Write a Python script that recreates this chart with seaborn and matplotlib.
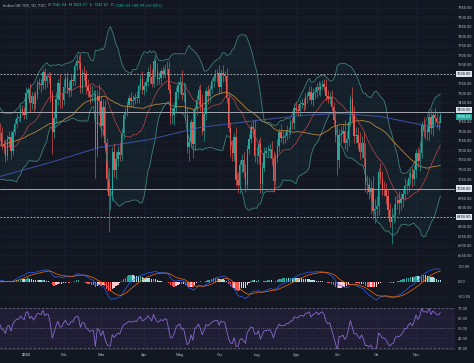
import numpy as np
import pandas as pd
import matplotlib
matplotlib.use("Agg")
import matplotlib.pyplot as plt
import seaborn as sns

# --- data: FTSE 100 daily closes (points) -----------------------------------
# Oct 1 - Dec 9 2021, only used to warm up the indicators (not drawn)
warmup_close = [7027, 7011, 7077, 6995, 7078, 7095, 7147, 7130, 7141, 7208, 7234, 7203, 7217, 7223, 7190,
                7205, 7222, 7277, 7253, 7249, 7238,
                7288, 7274, 7248, 7280, 7304, 7300, 7274, 7340, 7384, 7348, 7352, 7327, 7291, 7255, 7224,
                7255, 7266, 7286, 7311, 7044, 7110, 7059,
                7168, 7129, 7122, 7232, 7339, 7337, 7321]

month_labels = ["", "2022", "Feb", "Mar", "Apr", "Mag", "Giu", "Lug", "Ago", "Set", "Ott", "Nov"]

close_dec = [7292, 7231, 7219, 7171, 7260, 7270, 7198, 7297, 7341, 7373, 7372, 7421, 7403, 7385]
close_jan = [7505, 7516, 7450, 7485, 7445, 7491, 7552, 7551, 7543, 7611, 7564, 7590, 7585, 7494, 7297, 7372,
             7470, 7555, 7466, 7464]
close_feb = [7535, 7583, 7529, 7516, 7573, 7567, 7643, 7672, 7661, 7531, 7609, 7603, 7537, 7513, 7484, 7494,
             7498, 7207, 7489, 7458]
close_mar = [7330, 7429, 7238, 7049, 6959, 6964, 7191, 7099, 7156, 7193, 7176, 7291, 7385, 7405, 7442, 7476,
             7460, 7467, 7483, 7474, 7537, 7578, 7516]
close_apr = [7538, 7559, 7613, 7587, 7552, 7670, 7618, 7577, 7581, 7616, 7601, 7630, 7628, 7521, 7380, 7386,
             7425, 7510, 7545]
close_may = [7561, 7493, 7503, 7388, 7216, 7243, 7348, 7233, 7418, 7465, 7519, 7438, 7302, 7390, 7514, 7485,
             7522, 7564, 7585, 7600, 7608]
close_jun = [7533, 7608, 7598, 7593, 7476, 7318, 7206, 7187, 7273, 7045, 7016, 7122, 7152, 7089, 7020, 7209,
             7258, 7323, 7312, 7169]
close_jul = [7169, 7232, 7025, 7108, 7189, 7196, 7197, 7210, 7156, 7040, 7159, 7223, 7297, 7264, 7271, 7276,
             7306, 7306, 7348, 7345, 7423]
close_aug = [7413, 7409, 7445, 7448, 7440, 7482, 7488, 7507, 7466, 7501, 7509, 7536, 7516, 7542, 7551, 7534,
             7488, 7471, 7480, 7427, 7362, 7284]
close_sep = [7149, 7282, 7287, 7300, 7238, 7262, 7351, 7473, 7385, 7277, 7282, 7237, 7193, 7238, 7159, 7019,
             7021, 6984, 7005, 6881, 6894]
close_oct = [6909, 7086, 7053, 6997, 6991, 6959, 6885, 6826, 6850, 6858, 6921, 6937, 6925, 6944, 6970, 7013,
             7013, 7056, 7074, 7048, 7095]
close_nov = [7186, 7144, 7188, 7335, 7300, 7306, 7297, 7376, 7318, 7385, 7369, 7351, 7346.54, 7385.53]

# wick lengths beyond the candle body (points)
wick_up = [
    [25, 30, 25, 40, 20, 30, 35, 15, 25, 25, 10, 20, 20, 25],
    [30, 20, 40, 25, 25, 20, 20, 30, 25, 20, 25, 20, 25, 30, 25, 30, 40, 20, 45, 35],
    [40, 25, 30, 35, 25, 30, 20, 30, 30, 45, 20, 35, 20, 40, 30, 50, 20, 20, 30, 60],
    [30, 40, 35, 30, 60, 40, 30, 50, 40, 30, 50, 30, 20, 20, 20, 15, 30, 25, 20, 30, 15, 20, 40],
    [20, 25, 25, 40, 40, 15, 30, 40, 30, 20, 30, 25, 40, 45, 30, 40, 30, 25, 20],
    [30, 60, 60, 50, 40, 30, 20, 70, 20, 25, 20, 30, 60, 40, 20, 30, 25, 20, 20, 30, 20],
    [40, 20, 40, 20, 40, 30, 30, 50, 20, 50, 40, 30, 30, 40, 40, 20, 30, 20, 40, 50],
    [50, 30, 40, 30, 30, 20, 30, 30, 40, 40, 30, 40, 20, 40, 30, 20, 30, 20, 20, 30, 20],
    [30, 30, 20, 30, 30, 20, 20, 30, 30, 30, 25, 20, 30, 20, 20, 25, 40, 30, 30, 40, 30, 50],
    [50, 30, 40, 40, 60, 40, 30, 20, 60, 50, 40, 40, 60, 40, 60, 80, 50, 40, 40, 60, 50],
    [50, 20, 50, 40, 40, 40, 40, 40, 50, 60, 40, 30, 50, 30, 30, 40, 30, 30, 30, 40, 30],
    [20, 30, 20, 20, 40, 30, 30, 20, 40, 20, 40, 30, 30, 18],
]
wick_dn = [
    [40, 25, 30, 30, 20, 40, 45, 20, 15, 20, 15, 20, 15, 20],
    [20, 30, 50, 30, 40, 25, 20, 25, 35, 20, 40, 30, 30, 40, 115, 30, 25, 30, 40, 40],
    [25, 20, 30, 35, 30, 25, 20, 20, 30, 30, 30, 30, 40, 30, 40, 30, 35, 150, 40, 70],
    [60, 50, 30, 60, 190, 70, 30, 40, 50, 40, 30, 30, 30, 20, 25, 20, 30, 30, 20, 25, 25, 20, 20],
    [25, 30, 20, 30, 20, 20, 30, 30, 25, 30, 20, 20, 25, 20, 40, 40, 50, 25, 40],
    [40, 25, 40, 30, 30, 70, 30, 70, 30, 30, 25, 30, 20, 50, 30, 40, 30, 20, 30, 20, 40],
    [30, 30, 40, 25, 25, 20, 40, 40, 40, 30, 40, 40, 40, 30, 40, 30, 30, 20, 40, 30],
    [40, 40, 50, 50, 20, 20, 30, 30, 30, 60, 20, 20, 30, 20, 30, 30, 20, 40, 20, 30, 30],
    [20, 30, 30, 20, 30, 20, 30, 20, 20, 30, 30, 30, 25, 30, 20, 20, 30, 20, 25, 20, 30, 40],
    [80, 40, 40, 40, 30, 40, 40, 20, 30, 40, 40, 30, 40, 30, 40, 40, 50, 40, 120, 40, 60],
    [40, 50, 30, 30, 30, 40, 40, 30, 120, 30, 30, 30, 60, 40, 40, 30, 40, 30, 30, 40, 30],
    [40, 30, 50, 30, 30, 40, 40, 40, 30, 40, 30, 30, 40, 3],
]

# 200-day SMA at a few bars
sma200_bar = [0, 27, 53, 80, 107, 133, 160, 181, 203, 224, 235]
sma200_val = [7063, 7137, 7216, 7258, 7322, 7353, 7384, 7395, 7379, 7337, 7326]

levels_dashed = [7600, 6850]
levels_solid = [7400, 7000]

header = [("Indice UK 100, 1D, TVC", "#b2b5be"), ("  O ", "#b2b5be"), ("7346.54", "#26a69a"),
          ("  H ", "#b2b5be"), ("7403.37", "#26a69a"), ("  L ", "#b2b5be"), ("7343.82", "#26a69a"),
          ("  C ", "#b2b5be"), ("7385.53 +38.99 (+0.53%)", "#26a69a")]

# --- build series -------------------------------------------------------------
month_closes = [close_dec, close_jan, close_feb, close_mar, close_apr, close_may,
                close_jun, close_jul, close_aug, close_sep, close_oct, close_nov]
vis_close = np.concatenate([np.array(m, float) for m in month_closes])
full = pd.Series(np.concatenate([np.array(warmup_close, float), vis_close]))
n_warm = len(warmup_close)

opn = full.shift(1).fillna(full.iloc[0])
sma20 = full.rolling(20).mean()
sd20 = full.rolling(20).std(ddof=0)
bb_up, bb_lo = sma20 + 2 * sd20, sma20 - 2 * sd20
sma50 = full.rolling(50).mean()
macd = full.ewm(span=12, adjust=False).mean() - full.ewm(span=26, adjust=False).mean()
signal = macd.ewm(span=9, adjust=False).mean()
hist = macd - signal
delta = full.diff()
gain = delta.clip(lower=0).ewm(alpha=1 / 14, adjust=False).mean()
loss = (-delta.clip(upper=0)).ewm(alpha=1 / 14, adjust=False).mean()
rsi = 100 - 100 / (1 + gain / loss)

df = pd.DataFrame({
    "x": np.arange(len(vis_close)),
    "open": opn.values[n_warm:], "close": vis_close,
    "bb_up": bb_up.values[n_warm:], "bb_lo": bb_lo.values[n_warm:],
    "sma20": sma20.values[n_warm:], "sma50": sma50.values[n_warm:],
    "macd": macd.values[n_warm:], "signal": signal.values[n_warm:], "hist": hist.values[n_warm:],
    "rsi": rsi.values[n_warm:],
})
df["high"] = df[["open", "close"]].max(axis=1) + np.concatenate(wick_up)
df["low"] = df[["open", "close"]].min(axis=1) - np.concatenate(wick_dn)
sma200 = pd.DataFrame({"x": sma200_bar, "v": sma200_val})

month_start = np.cumsum([0] + [len(m) for m in month_closes[:-1]])

# --- style --------------------------------------------------------------------
BG = "#131722"
GRID = "#1c2030"
TXT = "#b2b5be"
UP = "#26a69a"
DN = "#ef5350"

sns.set_theme(style="dark", rc={
    "figure.facecolor": BG, "axes.facecolor": BG, "axes.edgecolor": "#2a2e39",
    "axes.grid": True, "grid.color": GRID, "grid.linewidth": 0.5,
    "xtick.color": TXT, "ytick.color": TXT})
plt.rcParams["font.family"] = ["Roboto", "DejaVu Sans"]

fig = plt.figure(figsize=(4.74, 3.63), dpi=100)
W, H = 474, 363
aw = 455 / W
ax_p = fig.add_axes([0, 1 - 259 / H, aw, 259 / H])
ax_m = fig.add_axes([0, 1 - 301 / H, aw, 42 / H])
ax_r = fig.add_axes([0, 1 - 349 / H, aw, 48 / H])

x0 = 0.13
x1 = (455 - 26) / 1.875 + 14
for ax in (ax_p, ax_m, ax_r):
    ax.set_xlim(x0, x1)
    ax.set_xticks(month_start[1:])
    ax.yaxis.tick_right()
    ax.tick_params(axis="both", length=0, labelsize=2.9, labelcolor=TXT, pad=2)
    for s in ax.spines.values():
        s.set_visible(False)
    ax.spines["bottom"].set_visible(True)
    ax.spines["bottom"].set_linewidth(0.6)

# --- price pane -----------------------------------------------------------------
ax_p.fill_between(df["x"], df["bb_lo"], df["bb_up"], color="#26a69a", alpha=0.07, lw=0)
sns.lineplot(data=df, x="x", y="bb_up", ax=ax_p, color="#3f7f7a", lw=0.6, legend=False)
sns.lineplot(data=df, x="x", y="bb_lo", ax=ax_p, color="#3f7f7a", lw=0.6, legend=False)
sns.lineplot(data=sma200, x="x", y="v", ax=ax_p, color="#3b52a8", lw=0.7, legend=False)
sns.lineplot(data=df, x="x", y="sma50", ax=ax_p, color="#b8873c", lw=0.6, legend=False)
sns.lineplot(data=df, x="x", y="sma20", ax=ax_p, color="#c2444a", lw=0.5, legend=False)

for lv in levels_solid:
    ax_p.axhline(lv, color="#a3a6af", lw=0.7)
for lv in levels_dashed:
    ax_p.axhline(lv, color="#c3c6ce", lw=0.6, ls=(0, (2, 2)))

cols = np.where(df["close"] >= df["open"], UP, DN)
ax_p.vlines(df["x"], df["low"], df["high"], colors=cols, lw=0.45)
body = np.maximum((df["close"] - df["open"]).abs(), 3)
ax_p.bar(df["x"], body, bottom=df[["open", "close"]].min(axis=1), width=0.7, color=cols, lw=0)

ax_p.set_ylim(6629, 7992)
pt = np.arange(6650, 8000, 50)
ax_p.set_yticks(pt)
ax_p.set_yticklabels([f"{v:.2f}" if v not in levels_dashed + levels_solid else "" for v in pt])
ax_p.tick_params(axis="x", labelbottom=False)

for lv in levels_dashed + levels_solid:
    ax_p.text(1.004, lv + (12 if lv == 7400 else 0), f"{lv:.2f}", transform=ax_p.get_yaxis_transform(),
              fontsize=2.9, color="#131722", va="center", ha="left", clip_on=False,
              bbox=dict(boxstyle="square,pad=0.25", fc="#e0e3eb", ec="none"))
last = df["close"].iloc[-1]
ax_p.text(1.004, last - 10, f"{last:.2f}", transform=ax_p.get_yaxis_transform(),
          fontsize=2.9, color="white", va="center", ha="left", clip_on=False,
          bbox=dict(boxstyle="square,pad=0.25", fc=UP, ec="none"))

# header
t = ax_p.text(3 / 455, 1 - 5 / 259, header[0][0], transform=ax_p.transAxes, fontsize=3.1,
              color=header[0][1], va="center", ha="left")
for txt, c in header[1:]:
    t = ax_p.annotate(txt, xy=(1, 0), xycoords=t, fontsize=3.1, color=c, va="bottom", ha="left")

# --- MACD pane -----------------------------------------------------------------
h = df["hist"].values
dh = np.diff(h, prepend=h[0])
hcol = np.where(h >= 0, np.where(dh >= 0, "#26a69a", "#b2dfdb"), np.where(dh <= 0, "#ff5252", "#ffcdd2"))
ax_m.bar(df["x"], h, width=0.7, color=hcol, lw=0)
sns.lineplot(data=df, x="x", y="macd", ax=ax_m, color="#2962ff", lw=0.5, legend=False)
sns.lineplot(data=df, x="x", y="signal", ax=ax_m, color="#ff6d00", lw=0.5, legend=False)
ax_m.set_ylim(-127, 153)
ax_m.set_yticks([-100, 0, 100])
ax_m.set_yticklabels(["-100.00", "0.00", "100.00"])
ax_m.tick_params(axis="x", labelbottom=False)

# --- RSI pane ------------------------------------------------------------------
ax_r.axhspan(30, 70, color="#7e57c2", alpha=0.12, lw=0)
for lv, ls in ((70, (0, (3, 3))), (50, (0, (1, 2))), (30, (0, (3, 3)))):
    ax_r.axhline(lv, color="#787b86", lw=0.5, ls=ls)
sns.lineplot(data=df, x="x", y="rsi", ax=ax_r, color="#8a6ad0", lw=0.6, legend=False)
ax_r.set_ylim(29, 77.3)
ax_r.set_yticks([30, 40, 50, 60, 70])
ax_r.set_yticklabels([f"{v:.2f}" for v in [30, 40, 50, 60, 70]])
ax_r.set_xticklabels(month_labels[1:])
ax_r.get_xticklabels()[0].set_fontweight("bold")
ax_r.tick_params(axis="x", pad=3)

# seaborn puts column names on the axes; the chart has none
for ax in (ax_p, ax_m, ax_r):
    ax.set_xlabel("")
    ax.set_ylabel("")

fig.savefig("out.png", dpi=100, facecolor=BG)
